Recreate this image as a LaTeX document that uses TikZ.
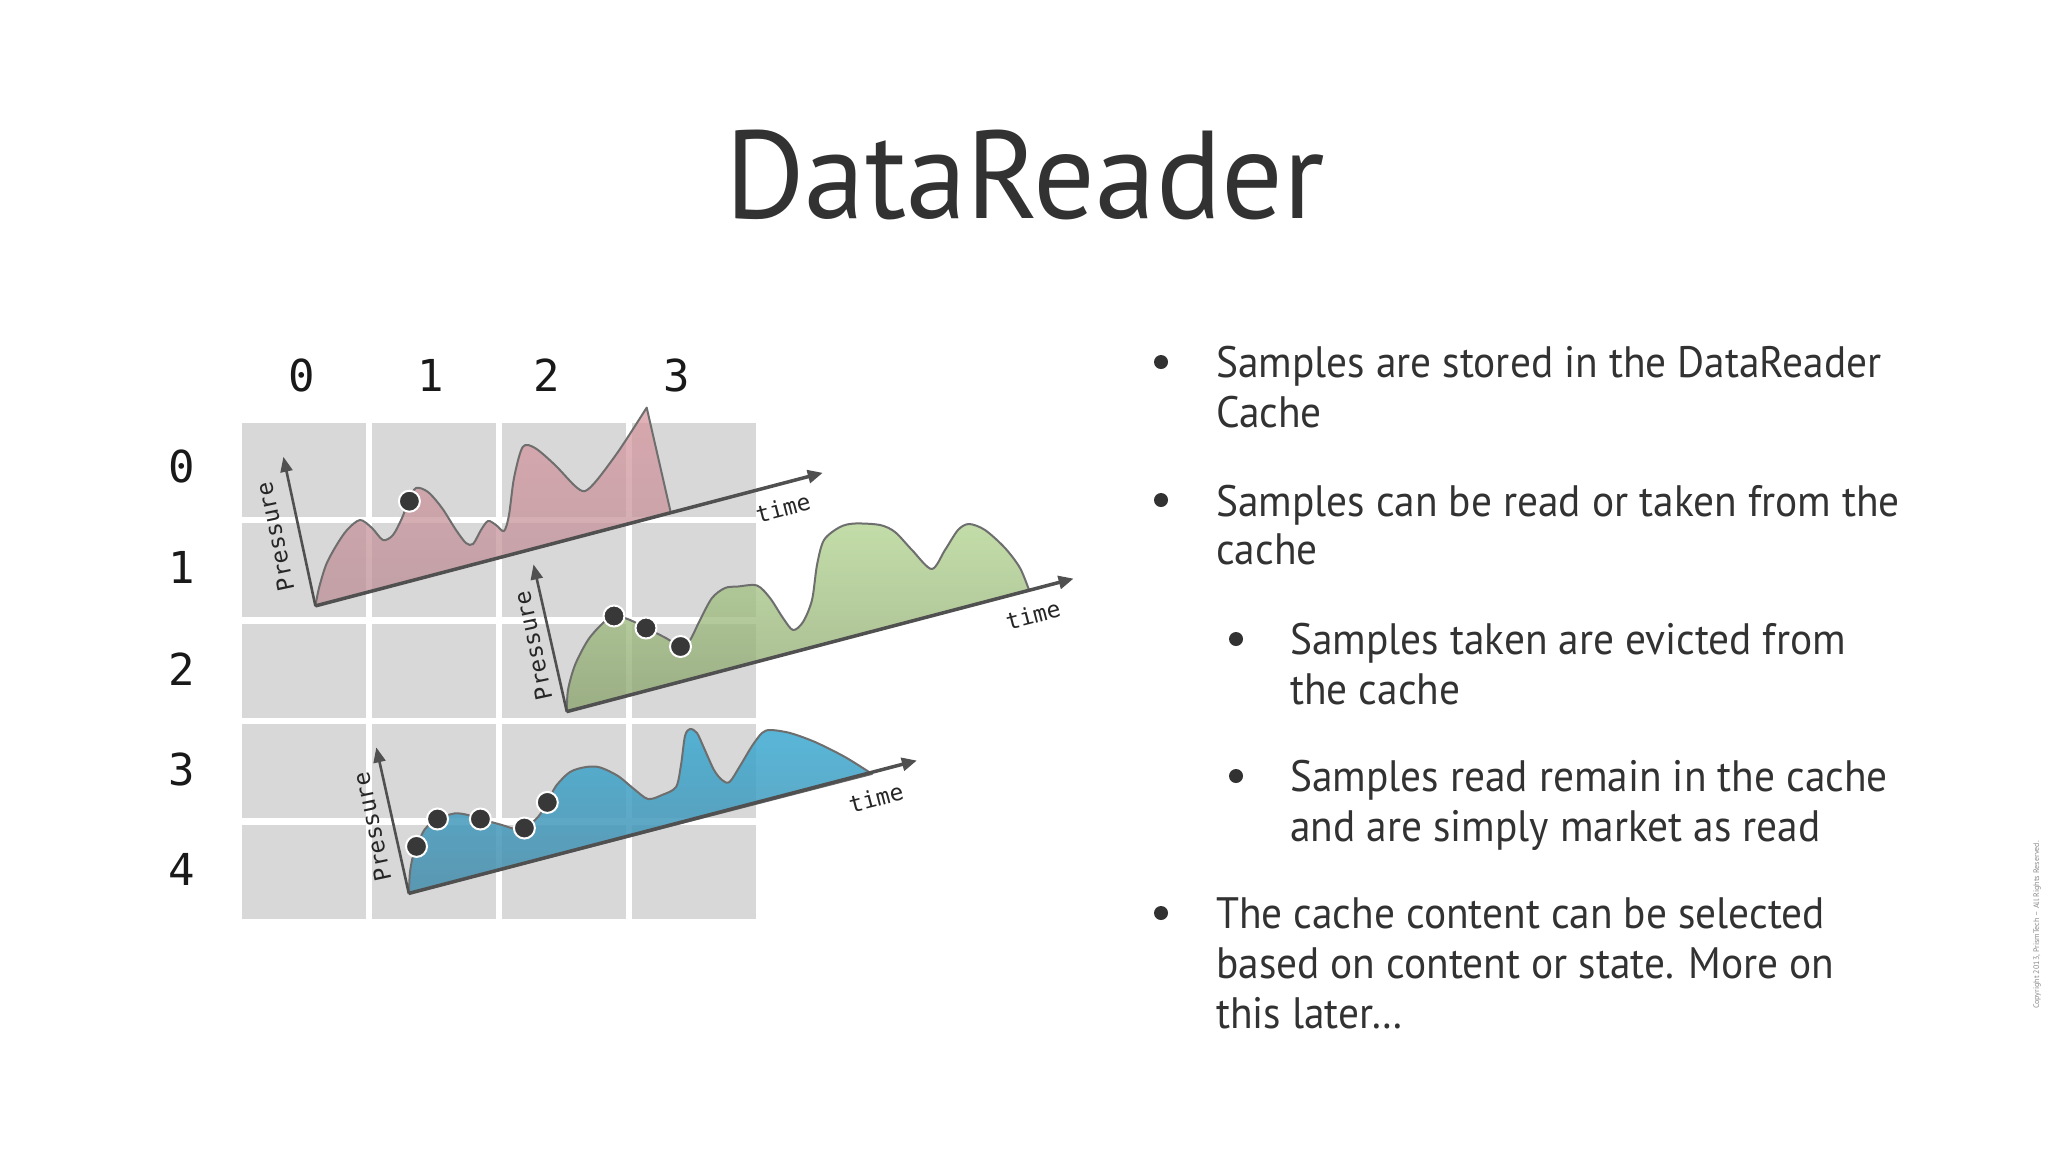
\documentclass[tikz,border=0pt]{standalone}
\usepackage{fontspec}
\setmainfont{PT Sans}
\newfontfamily\bodyfont[FakeStretch=0.94]{PT Sans}
\newfontfamily\titlefont[FakeStretch=0.975]{PT Sans}
\newfontfamily\monofont{DejaVu Sans Mono}
\usetikzlibrary{arrows.meta}
\definecolor{cellgray}{RGB}{216,216,217}
\definecolor{txt}{RGB}{50,50,50}
\definecolor{axisc}{RGB}{80,80,80}
\definecolor{curvec}{RGB}{110,110,110}
\definecolor{redtop}{RGB}{215,150,158}
\definecolor{redbot}{RGB}{185,140,148}
\definecolor{greentop}{RGB}{175,210,140}
\definecolor{greenbot}{RGB}{135,160,105}
\definecolor{bluetop}{RGB}{60,170,210}
\definecolor{bluebot}{RGB}{70,140,170}
\definecolor{dotc}{RGB}{56,56,56}
\tikzset{
  cell/.style={fill=cellgray},
  curve/.style={draw=curvec, line width=2pt, line join=round},
  timeaxis/.style={draw=axisc, line width=3.5pt, -{Triangle[length=15pt,width=13pt]}},
  presaxis/.style={draw=axisc, line width=2.6pt, -{Triangle[length=15pt,width=12pt]}},
  sample/.style={circle, fill=dotc, draw=white, line width=2pt, minimum size=21pt, inner sep=0pt},
  axlabel/.style={font=\monofont\fontsize{23}{23}\selectfont, text=black!85, inner sep=0pt},
  idx/.style={font=\monofont\fontsize{44}{44}\selectfont, text=black!90, inner sep=0pt},
  line/.style={anchor=base west, font=\bodyfont\fontsize{44}{50}\selectfont, text=txt, inner sep=0pt},
  bul/.style={circle, fill=txt, minimum size=14pt, inner sep=0pt}
}
\begin{document}
\begin{tikzpicture}[x=1pt,y=-1pt]
\useasboundingbox (0,0) rectangle (2048,1152);
\fill[white] (0,0) rectangle (2048,1152);

% title
\node[anchor=base, font=\titlefont\fontsize{125}{125}\selectfont, text=txt, inner sep=0pt] (title) at (1025,218) {DataReader};

% grid
\foreach \cx in {242,372,502,632}
  \foreach \ry in {423,523,624,724,825}
    \fill[cell] (\cx,\ry) rectangle ++(124,94);

% index labels
\node[idx] (c0) at (302,375) {0};
\node[idx] (c1) at (431,375) {1};
\node[idx] (c2) at (547,375) {2};
\node[idx] (c3) at (677,375) {3};
\node[idx] (r0) at (181.5,466) {0};
\node[idx] (r1) at (181.5,567) {1};
\node[idx] (r2) at (181.5,669) {2};
\node[idx] (r3) at (181.5,769) {3};
\node[idx] (r4) at (181.5,869) {4};

% red graph
\coordinate (ro) at (315.4,605.9);
\coordinate (rp) at (283.4,456.8);
\coordinate (rt) at (822.8,472.8);
\path[curve, top color=redtop, bottom color=redbot, fill opacity=0.72]
  plot[smooth, tension=0.5] coordinates {
  (315.4,605.9) (319,588) (326,565) (336,546) (347,530) (360,520) (372,528) (383,540)
  (393,535) (402,518) (409,500) (416,488) (428,492) (442,508) (456,530) (466,543) (473,544)
  (481,530) (488,521) (496,525) (504,531) (509,515) (514,478) (522.7,447) (535,448)
  (555,465) (575,486) (585,491) (597,480) (620,449) (646.7,407.6)}
  -- (670.8,512.8) -- cycle;
\draw[timeaxis] (ro) -- (rt);
\draw[presaxis] (ro) -- (rp);
\node[axlabel, rotate=102] (rpl) at (275,537) {Pressure};
\node[axlabel, rotate=14.6] (rtl) at (783,508) {time};
\node[sample] (rs1) at (409.4,501.2) {};

% green graph
\coordinate (go) at (566.8,711.6);
\coordinate (gp) at (533.5,564.4);
\coordinate (gt) at (1073.6,578.6);
\path[curve, top color=greentop, bottom color=greenbot, fill opacity=0.75]
  plot[smooth, tension=0.5] coordinates {
  (566.8,711.6) (568,690) (575,665) (588,640) (602,624) (614,615.5) (630,620) (646,628)
  (664,637) (681,646) (690,640) (700,620) (712,598) (725,588) (738,586.5) (757,585.5)
  (770,598) (783,618) (793,630) (803,622) (812,600) (817,565) (824,540) (840,527)
  (855,523.5) (880,525) (895,532) (912,550) (931.7,569) (945,550) (958,530) (969,524)
  (985,530) (1005,548) (1020,568) (1029,590)} -- cycle;
\draw[timeaxis] (go) -- (gt);
\draw[presaxis] (go) -- (gp);
\node[axlabel, rotate=102] (gpl) at (533,646) {Pressure};
\node[axlabel, rotate=14.6] (gtl) at (1033,615) {time};
\node[sample] (gs1) at (614,616) {};
\node[sample] (gs2) at (646,628) {};
\node[sample] (gs3) at (680.5,646.5) {};

% blue graph
\coordinate (bo) at (408.8,893.4);
\coordinate (bp) at (376.3,747.4);
\coordinate (bt) at (916.9,760.5);
\path[curve, top color=bluetop, bottom color=bluebot, fill opacity=0.85]
  plot[smooth, tension=0.5] coordinates {
  (408.8,893.4) (410,872) (413,856) (416.5,846.4) (425,829) (437.5,819) (454.7,813.4)
  (468,815) (480.4,819) (502,825) (515,829) (524.4,828) (538,817) (547.3,802.4) (556,786)
  (570,772) (586,767) (600,767.4) (618,776) (634,789) (648,799) (662,795) (676,787)
  (681,765) (685,736) (690,729) (697,733) (704,748) (714,770) (722,780) (729.5,782)
  (740,766) (752,746) (762,733) (770.4,730) (790,733) (815,742) (845,757) (872,773.9)} -- cycle;
\draw[timeaxis] (bo) -- (bt);
\draw[presaxis] (bo) -- (bp);
\node[axlabel, rotate=102] (bpl) at (372,827) {Pressure};
\node[axlabel, rotate=14.6] (btl) at (876,798) {time};
\node[sample] (bs1) at (416.5,846.4) {};
\node[sample] (bs2) at (437.5,819) {};
\node[sample] (bs3) at (480.4,819) {};
\node[sample] (bs4) at (524.4,828) {};
\node[sample] (bs5) at (547.3,802.4) {};

% bullets
\node[bul] (d1) at (1161,362) {};
\node[line] (t1a) at (1216,377.5) {Samples are stored in the DataReader};
\node[line] (t1b) at (1216,427) {Cache};
\node[bul] (d2) at (1161,500) {};
\node[line] (t2a) at (1216,516) {Samples can be read or taken from the};
\node[line] (t2b) at (1216,564) {cache};
\node[bul] (d3) at (1236,639) {};
\node[line] (t3a) at (1290,654) {Samples taken are evicted from};
\node[line] (t3b) at (1290,704) {the cache};
\node[bul] (d4) at (1236,776) {};
\node[line] (t4a) at (1290,791.5) {Samples read remain in the cache};
\node[line] (t4b) at (1290,841) {and are simply market as read};
\node[bul] (d5) at (1161,913) {};
\node[line] (t5a) at (1216,928.6) {The cache content can be selected};
\node[line] (t5b) at (1216,978) {based on content or state. More on};
\node[line] (t5c) at (1216,1028) {this later…};

% copyright
\node[rotate=90, font=\fontsize{8}{8}\selectfont, text=black!45, inner sep=0pt] (copy) at (2037,925) {Copyright 2013, PrismTech – All Rights Reserved.};
\end{tikzpicture}
\end{document}
